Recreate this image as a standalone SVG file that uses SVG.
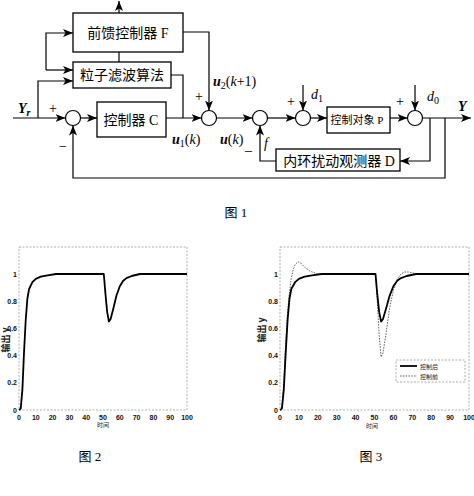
<svg xmlns="http://www.w3.org/2000/svg" width="474" height="496" viewBox="0 0 474 496">
<style>
.box{fill:#fff;stroke:#000;stroke-width:1.3}
.sum{fill:#fff;stroke:#000;stroke-width:1.2}
.ln{fill:none;stroke:#000;stroke-width:1.2}
.cj{font-family:"Liberation Serif","Noto Sans CJK SC",serif;fill:#000}
.lb{font-family:"Liberation Serif","Noto Sans CJK SC",serif;fill:#000;font-size:14px}
.bi{font-weight:bold;font-style:italic}
.it{font-style:italic}
.frame{fill:none;stroke:#9a9a9a;stroke-width:0.8;stroke-dasharray:2 1.5}
.tk{font-family:"Liberation Sans",Arial,sans-serif;font-size:7px;font-weight:bold;fill:#111}
.cv{fill:none;stroke:#000;stroke-width:1.8;stroke-linejoin:round}
.cd{fill:none;stroke:#555;stroke-width:0.9;stroke-dasharray:1.6 1.2}
.sm{font-family:"Noto Sans CJK SC",sans-serif;font-size:6px;fill:#222}
.yl{font-family:"Noto Sans CJK SC",sans-serif;font-size:9px;font-weight:bold;fill:#222}
</style>
<defs>
<marker id="ah" viewBox="0 0 10 8" refX="10" refY="4" markerWidth="10" markerHeight="8" markerUnits="userSpaceOnUse" orient="auto">
<path d="M0,0 L10,4 L0,8 L2.5,4 Z" fill="#000"/>
</marker>
</defs>
<rect width="474" height="496" fill="#fff"/>

<g id="connectors">
<path class="ln" d="M119,13 V1" marker-end="url(#ah)"/>
<path class="ln" d="M119,52 V62"/>
<path class="ln" d="M46,70 V33 H73" marker-end="url(#ah)"/>
<path class="ln" d="M46,70 H73" marker-end="url(#ah)"/>
<path class="ln" d="M13,118 H65.5" marker-end="url(#ah)"/>
<path class="ln" d="M38,118 V81 H73" marker-end="url(#ah)"/>
<path class="ln" d="M80.5,118 H97" marker-end="url(#ah)"/>
<path class="ln" d="M166,118 H201.5" marker-end="url(#ah)"/>
<path class="ln" d="M171,75 H183 V118"/>
<path class="ln" d="M183,32 H209 V110.5" marker-end="url(#ah)"/>
<path class="ln" d="M216.5,118 H252.5" marker-end="url(#ah)"/>
<path class="ln" d="M267.5,118 H295.5" marker-end="url(#ah)"/>
<path class="ln" d="M303,85 V110.5" marker-end="url(#ah)"/>
<path class="ln" d="M310.5,118 H327" marker-end="url(#ah)"/>
<path class="ln" d="M390,118 H407.5" marker-end="url(#ah)"/>
<path class="ln" d="M415,85 V110.5" marker-end="url(#ah)"/>
<path class="ln" d="M422.5,118 H471" marker-end="url(#ah)"/>
<path class="ln" d="M445,118 V178 H73 V125.5" marker-end="url(#ah)"/>
<path class="ln" d="M430,118 V161 H400" marker-end="url(#ah)"/>
<path class="ln" d="M276,161 H260 V125.5" marker-end="url(#ah)"/>
</g>

<g id="nodeF"><rect class="box" x="73" y="13" width="110" height="39"/><text class="cj" x="128" y="38" font-size="14" text-anchor="middle">前馈控制器 F</text></g>
<g id="nodePF"><rect class="box" x="73" y="62" width="98" height="26"/><text class="cj" x="122" y="80" font-size="14" text-anchor="middle">粒子滤波算法</text></g>
<g id="nodeC"><rect class="box" x="97" y="102" width="69" height="35"/><text class="cj" x="131" y="125" font-size="14" text-anchor="middle">控制器 C</text></g>
<g id="nodeP"><rect class="box" x="327" y="107" width="63" height="26"/><text class="cj" x="357" y="124" font-size="11" text-anchor="middle">控制对象 P</text></g>
<g id="nodeD"><rect class="box" x="276" y="149" width="124" height="22"/><text class="cj" x="339" y="166" font-size="14" text-anchor="middle">内环扰动观测器 D</text></g>
<g id="sum1"><circle class="sum" cx="73" cy="118" r="7.5"/></g>
<g id="sum2"><circle class="sum" cx="209" cy="118" r="7.5"/></g>
<g id="sum3"><circle class="sum" cx="260" cy="118" r="7.5"/></g>
<g id="sum4"><circle class="sum" cx="303" cy="118" r="7.5"/></g>
<g id="sum5"><circle class="sum" cx="415" cy="118" r="7.5"/></g>

<g id="labels">
<text class="lb" x="18" y="113"><tspan class="bi">Y</tspan><tspan class="bi" font-size="10" dy="3">r</tspan></text>
<text class="lb" x="49" y="113">+</text>
<text class="lb" x="59" y="151">−</text>
<text class="lb" x="195" y="101">+</text>
<text class="lb" x="213" y="86"><tspan class="bi">u</tspan><tspan font-size="10" dy="3">2</tspan><tspan dy="-3">(</tspan><tspan class="it">k</tspan>+1)</text>
<text class="lb" x="172" y="144"><tspan class="bi">u</tspan><tspan font-size="10" dy="3">1</tspan><tspan dy="-3">(</tspan><tspan class="it">k</tspan>)</text>
<text class="lb" x="220" y="144"><tspan class="bi">u</tspan>(<tspan class="it">k</tspan>)</text>
<text class="lb" x="264" y="148"><tspan class="it">f</tspan></text>
<text class="lb" x="245" y="150">_</text>
<text class="lb" x="287" y="106">+</text>
<text class="lb" x="311" y="99"><tspan class="it">d</tspan><tspan font-size="10" dy="3">1</tspan></text>
<text class="lb" x="396" y="106">+</text>
<text class="lb" x="427" y="101"><tspan class="it">d</tspan><tspan font-size="10" dy="3">0</tspan></text>
<text class="lb bi" x="458" y="111">Y</text>
<text class="cj" x="236" y="217" font-size="13" text-anchor="middle">图 1</text>
</g>

<g id="plot2">
<rect class="frame" x="19" y="247" width="168" height="163"/>
<g class="tk" text-anchor="end">
<text x="17" y="412.5">0</text><text x="17" y="385.3">0.2</text><text x="17" y="358.1">0.4</text><text x="17" y="330.9">0.6</text><text x="17" y="303.7">0.8</text><text x="17" y="276.5">1</text>
</g>
<g class="tk" text-anchor="middle">
<text x="19" y="420">0</text><text x="35.8" y="420">10</text><text x="52.6" y="420">20</text><text x="69.4" y="420">30</text><text x="86.2" y="420">40</text><text x="103" y="420">50</text><text x="119.8" y="420">60</text><text x="136.6" y="420">70</text><text x="153.4" y="420">80</text><text x="170.2" y="420">90</text><text x="187" y="420">100</text>
</g>
<text class="sm" x="103" y="427" text-anchor="middle">时间</text>
<text class="yl" transform="translate(9,340) rotate(-90)" text-anchor="middle">输出 y</text>
<polyline class="cv" points="19,410 20.7,408.6 22.4,389.6 24,352.9 25.7,320.2 27.4,298.5 29.1,289 32.4,282.2 35.8,278.8 40.8,276.7 47.6,275.4 56,274 103.8,274 105.5,294.4 107.2,312.1 108.9,321.6 110.6,318.9 113.1,309.4 116.4,295.8 119.8,286.2 123.2,280.8 126.5,278.1 131.6,276 140,274 187,274"/>
</g>

<g id="plot3">
<rect class="frame" x="280" y="247" width="189" height="163"/>
<g class="tk" text-anchor="end">
<text x="278" y="412.5">0</text><text x="278" y="385.3">0.2</text><text x="278" y="358.1">0.4</text><text x="278" y="330.9">0.6</text><text x="278" y="303.7">0.8</text><text x="278" y="276.5">1</text>
</g>
<g class="tk" text-anchor="middle">
<text x="280" y="420">0</text><text x="298.9" y="420">10</text><text x="317.8" y="420">20</text><text x="336.7" y="420">30</text><text x="355.6" y="420">40</text><text x="374.5" y="420">50</text><text x="393.4" y="420">60</text><text x="412.3" y="420">70</text><text x="431.2" y="420">80</text><text x="450.1" y="420">90</text><text x="469" y="420">100</text>
</g>
<text class="sm" x="372" y="428" text-anchor="middle">时间</text>
<text class="yl" transform="translate(265,330) rotate(-90)" text-anchor="middle">输出 y</text>
<polyline class="cd" points="280,410 281.9,408.6 283.8,382.8 285.7,342 287.6,312.1 289.5,291.7 291.3,278.1 293.2,269.9 295.1,264.5 298,261.8 300.8,263.1 304.6,267.2 310.2,271.3 317.8,274 375.5,274 377.3,301.2 379.2,335.2 381.1,357 383,352.9 385.8,335.2 389.6,308 393.4,290.3 397.2,279.4 401,274 404.7,272 408.5,272 414.2,273.3 421.8,274 469,274"/>
<polyline class="cv" points="280,410 281.9,408.6 283.8,389.6 285.7,352.9 287.6,320.2 289.5,298.5 291.3,289 295.1,282.2 298.9,278.8 304.6,276.7 312.1,275.4 321.6,274 375.5,274 377.3,294.4 379.2,312.1 381.1,321.6 383,318.9 385.8,309.4 389.6,295.8 393.4,286.2 397.2,280.8 401,278.1 406.6,276 416.1,274 469,274"/>
<rect x="396" y="360" width="69" height="22" fill="#fff" stroke="#888" stroke-width="0.7" stroke-dasharray="2 1.5"/>
<line x1="400" y1="366" x2="417" y2="366" stroke="#000" stroke-width="1.8"/>
<line x1="400" y1="376" x2="417" y2="376" stroke="#555" stroke-width="0.9" stroke-dasharray="1.6 1.2"/>
<text class="sm" x="420" y="368.5">控制后</text>
<text class="sm" x="420" y="378.5">控制前</text>
</g>

<g id="captions">
<text class="cj" x="90" y="461" font-size="13" text-anchor="middle">图 2</text>
<text class="cj" x="371" y="461" font-size="13" text-anchor="middle">图 3</text>
</g>
</svg>
